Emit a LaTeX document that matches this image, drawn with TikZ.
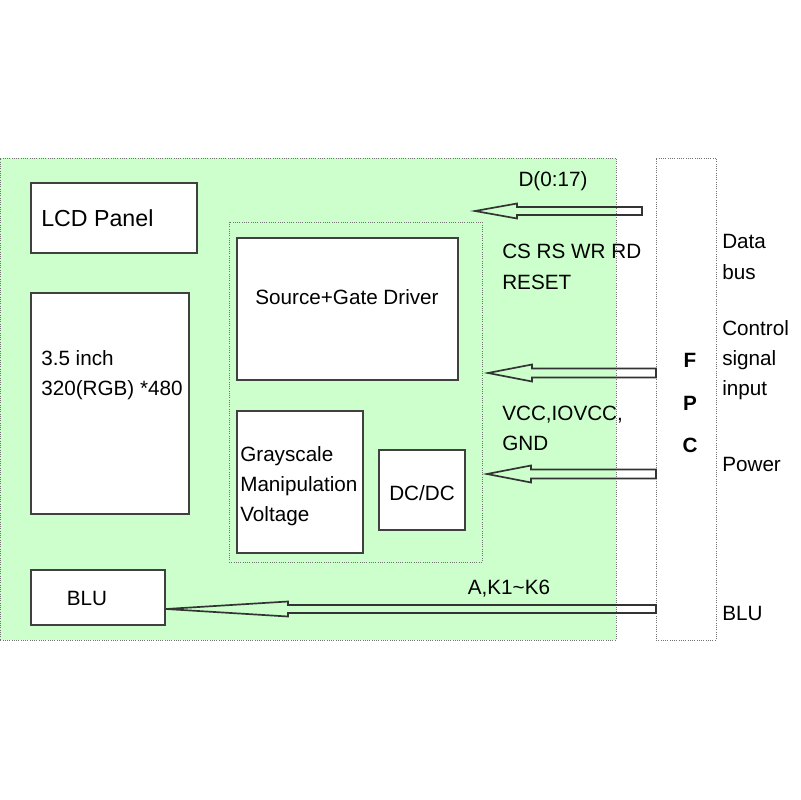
\documentclass[tikz,border=0pt]{standalone}
\usepackage{fontspec}
\setmainfont{Liberation Sans}
\usetikzlibrary{calc,fit}
\definecolor{panelgreen}{HTML}{CCFFCC}
\tikzset{
  box/.style={draw=black!75, line width=1.3pt, fill=white, inner sep=0pt},
  area/.style={draw=black!55, densely dotted, line width=0.6pt, inner sep=0pt},
  txt/.style={inner sep=0pt, align=left, font=\fontsize{14.7}{21.5}\selectfont},
  blockarrow/.style={draw=black!80, line width=1.2pt, line join=miter},
}
% hollow block arrow: tail, tip, head length, head half width, shaft half width
\newcommand{\hollowarrow}[5]{%
  \draw[blockarrow] (#2) -- ($(#2)+(#3,-#4)$) -- ($(#2)+(#3,-#5)$)
    -- ($(#1)+(0,-#5)$) -- ($(#1)+(0,#5)$) -- ($(#2)+(#3,#5)$)
    -- ($(#2)+(#3,#4)$) -- cycle;}
\begin{document}
\begin{tikzpicture}[x=0.025cm, y=-0.025cm]
\useasboundingbox (0,0) rectangle (800,800);
% module area and FPC
\node[area, fill=panelgreen, fit={(0.5,158) (616,640)}] (module) {};
\node[area, fit={(656,158) (716,640)}] (fpc) {};
\node[area, fit={(229,222) (482,562)}] (driver) {};
% blocks
\node[box, fit={(31,183) (197,253)}] (lcd) {};
\node[box, fit={(31,293) (189,514)}] (glass) {};
\node[box, fit={(237,238) (458,380)}] (sgd) {};
\node[box, fit={(237,411) (363,553)}] (gray) {};
\node[box, fit={(379,450) (465,530)}] (dcdc) {};
\node[box, fit={(31,570) (165,625)}] (blu) {};
% block texts
\node[txt, anchor=west, font=\fontsize{16.5}{20}\selectfont] (lcdtxt) at (41,218) {LCD Panel};
\node[txt, anchor=west] (glasstxt) at (41,375) {3.5 inch\\320(RGB) *480};
\node[txt] (sgdtxt) at (347,297) {Source+Gate Driver};
\node[txt, anchor=west] (graytxt) at (240,486) {Grayscale\\Manipulation\\Voltage};
\node[txt] (dcdctxt) at (422,493) {DC/DC};
\node[txt] (blutxt) at (87,598) {BLU};
% FPC side
\node[txt, align=center, font=\fontsize{14.7}{30}\selectfont\bfseries] (fpctxt) at (690,403) {F\\P\\C};
\node[txt, anchor=west] (databus) at (722,257) {Data\\bus};
\node[txt, anchor=west] (ctrl) at (722,360) {Control\\signal\\input};
\node[txt, anchor=west] (power) at (722,464) {Power};
\node[txt, anchor=west] (blulbl) at (722,613) {BLU};
% signal labels
\node[txt] (dlbl) at (553,181) {D(0:17)};
\node[txt, anchor=west] (ctrllbl) at (502,267) {CS RS WR RD\\RESET};
\node[txt, anchor=west] (pwrlbl) at (502,428) {VCC,IOVCC,\\GND};
\node[txt] (akl) at (509,589) {A,K1\textasciitilde K6};
% arrows
\coordinate (dtail) at (642,211);
\coordinate (dtip) at (475,211);
\coordinate (ctail) at (656,373);
\coordinate (ctip) at (488,373);
\coordinate (ptail) at (656,474);
\coordinate (ptip) at (487,474);
\coordinate (btail) at (656,609);
\coordinate (btip) at (blu.east |- btail);
\hollowarrow{dtail}{dtip}{42}{7.5}{4}
\hollowarrow{ctail}{ctip}{44}{8.5}{4.5}
\hollowarrow{ptail}{ptip}{44}{8.5}{4.5}
\hollowarrow{btail}{btip}{122}{7.5}{4}
\end{tikzpicture}
\end{document}
